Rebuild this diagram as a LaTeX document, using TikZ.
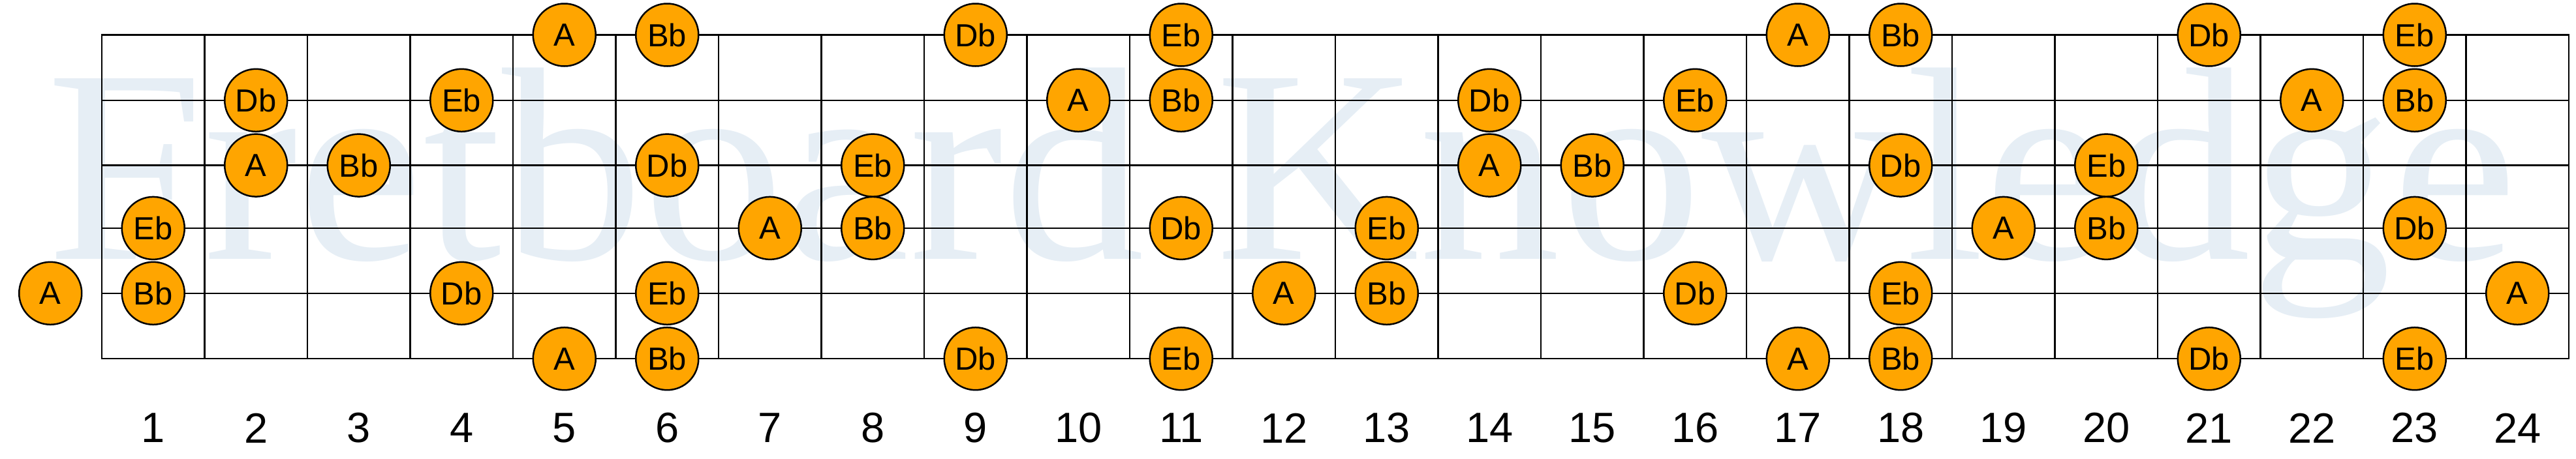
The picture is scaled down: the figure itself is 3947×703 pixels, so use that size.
\documentclass[tikz,border=0pt]{standalone}
\usepackage{fontspec}
\usepackage{graphicx}
\setmainfont{Liberation Sans}
\newfontfamily\wmfont{Liberation Serif}
\definecolor{wmblue}{RGB}{230,238,245}
\definecolor{noteorange}{RGB}{255,165,0}
\begin{document}
\begin{tikzpicture}[x=0.5pt,y=-0.5pt,
  note/.style={circle,draw=black,line width=1.25pt,fill=noteorange,minimum size=48pt,inner sep=0pt,font=\fontsize{24.5}{24.5}\selectfont},
  fretnum/.style={inner sep=0pt,font=\fontsize{32.5}{32.5}\selectfont},
  gridline/.style={line width=1.2pt,black},
  watermark/.style={anchor=base west,inner sep=0pt,text=wmblue,font=\wmfont\fontsize{211.5}{211.5}\selectfont}]
\useasboundingbox (0,0) rectangle (3947,703);
% watermark
\node[watermark] (wm) at (71.5,397) {\scalebox{1.023}[1]{Fretboard Knowledge}};
% strings
\foreach \y in {53.5,153.8,253.6,349.9,449.8,550.2}
  \draw[gridline] (156,\y) -- (3936,\y);
% frets
\foreach \k in {0,...,24}
  \draw[gridline] ({156+157.5*\k},53.5) -- ({156+157.5*\k},550.2);
\draw[gridline,line join=miter] (156,53.5) rectangle (3936,550.2);
% fret numbers
\foreach \k in {1,...,24}
  \node[fretnum] (num\k) at ({156+157.5*(\k-0.5)},656.5) {\k};
% notes
\foreach \f/\l in {5/A,6/Bb,9/Db,11/Eb,17/A,18/Bb,21/Db,23/Eb}
  \node[note] (nA-\f) at ({156+157.5*(\f-0.5)},53.5) {\l};
\foreach \f/\l in {2/Db,4/Eb,10/A,11/Bb,14/Db,16/Eb,22/A,23/Bb}
  \node[note] (nB-\f) at ({156+157.5*(\f-0.5)},153.8) {\l};
\foreach \f/\l in {2/A,3/Bb,6/Db,8/Eb,14/A,15/Bb,18/Db,20/Eb}
  \node[note] (nC-\f) at ({156+157.5*(\f-0.5)},253.6) {\l};
\foreach \f/\l in {1/Eb,7/A,8/Bb,11/Db,13/Eb,19/A,20/Bb,23/Db}
  \node[note] (nD-\f) at ({156+157.5*(\f-0.5)},349.9) {\l};
\foreach \f/\l in {0/A,1/Bb,4/Db,6/Eb,12/A,13/Bb,16/Db,18/Eb,24/A}
  \node[note] (nE-\f) at ({156+157.5*(\f-0.5)},449.8) {\l};
\foreach \f/\l in {5/A,6/Bb,9/Db,11/Eb,17/A,18/Bb,21/Db,23/Eb}
  \node[note] (nF-\f) at ({156+157.5*(\f-0.5)},550.2) {\l};
\end{tikzpicture}
\end{document}
